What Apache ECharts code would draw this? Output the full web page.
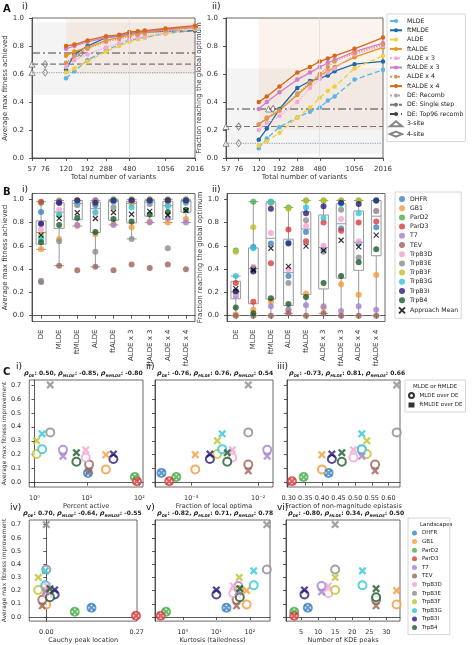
<!DOCTYPE html>
<html><head><meta charset="utf-8">
<script src="https://cdn.jsdelivr.net/npm/echarts@6/dist/echarts.min.js"></script>
<style>html,body{margin:0;padding:0;background:#fff}#c{width:474px;height:645px}</style>
</head><body><div id="c"></div>
<script>
// ---------- DATA ----------
const variantCounts = [120,144,192,288,384,480,576,672,1056,2016];
const xTickLabelsA = [57,76,120,192,288,480,1056,2016];
const methodsA = ['MLDE','ftMLDE','ALDE','ftALDE','ALDE x 3','ftALDE x 3','ALDE x 4','ftALDE x 4'];
const fitnessA = [
 [0.57,0.62,0.70,0.77,0.81,0.84,0.85,0.86,0.89,0.91],
 [0.63,0.74,0.80,0.86,0.87,0.89,0.895,0.90,0.905,0.91],
 [0.61,0.64,0.69,0.76,0.80,0.83,0.85,0.86,0.89,0.92],
 [0.73,0.76,0.79,0.84,0.86,0.88,0.89,0.895,0.915,0.935],
 [0.65,0.70,0.74,0.79,0.82,0.85,0.86,0.87,0.90,0.925],
 [0.78,0.80,0.83,0.86,0.87,0.89,0.895,0.90,0.92,0.935],
 [0.68,0.73,0.78,0.83,0.85,0.87,0.88,0.89,0.91,0.93],
 [0.80,0.81,0.84,0.87,0.88,0.90,0.905,0.91,0.925,0.945]];
const globalA = [
 [0.07,0.14,0.22,0.29,0.33,0.36,0.41,0.44,0.56,0.63],
 [0.13,0.21,0.35,0.50,0.55,0.57,0.59,0.62,0.67,0.69],
 [0.09,0.12,0.18,0.29,0.36,0.43,0.48,0.51,0.64,0.73],
 [0.24,0.28,0.34,0.45,0.53,0.59,0.62,0.65,0.72,0.79],
 [0.20,0.25,0.30,0.40,0.50,0.57,0.61,0.64,0.74,0.80],
 [0.35,0.40,0.47,0.56,0.61,0.65,0.68,0.70,0.76,0.82],
 [0.24,0.29,0.34,0.46,0.54,0.60,0.65,0.69,0.75,0.81],
 [0.40,0.44,0.51,0.61,0.65,0.69,0.71,0.73,0.78,0.86]];
const deNames = ['DE: Recomb','DE: Single step','DE: Top96 recomb'];
const deFitness = [0.61,0.67,0.75];
const deGlobal = [0.105,0.225,0.35];
const siteX3 = [57,57,150];
const siteX4 = [76,76,166];

const landscapes = ['DHFR','GB1','ParD2','ParD3','T7','TEV','TrpB3D','TrpB3E','TrpB3F','TrpB3G','TrpB3I','TrpB4'];
const methodsB = ['DE','MLDE','ftMLDE','ALDE','ftALDE','ALDE x 3','ftALDE x 3','ALDE x 4','ftALDE x 4'];
const fitnessB = [
 [0.89,0.57,0.97,0.98,0.79,0.29,0.74,0.30,0.69,0.66,0.79,0.63],
 [0.97,0.66,0.99,0.98,0.97,0.43,0.91,0.64,0.86,0.87,0.97,0.78],
 [0.99,0.77,0.99,0.99,0.78,0.39,0.96,0.95,0.99,0.97,0.99,0.84],
 [0.95,0.70,0.99,0.99,0.99,0.42,0.88,0.55,0.97,0.89,0.97,0.72],
 [0.99,0.79,1.00,0.99,0.78,0.39,0.98,0.93,0.99,0.98,0.99,0.83],
 [0.97,0.76,1.00,0.99,0.98,0.44,0.96,0.66,0.97,0.93,0.99,0.81],
 [0.99,0.81,1.00,0.99,0.80,0.41,0.97,0.96,0.99,0.98,0.99,0.87],
 [0.98,0.80,1.00,0.99,0.84,0.44,0.95,0.58,0.98,0.94,0.99,0.89],
 [0.99,0.83,1.00,0.99,0.80,0.40,0.98,0.97,0.99,0.98,0.99,0.91]];
const globalB = [
 [0.20,0.01,0.56,0.28,0.17,0.00,0.19,0.21,0.55,0.34,0.21,0.07],
 [0.59,0.05,0.98,0.12,0.40,0.00,0.42,0.41,0.76,0.58,0.38,0.02],
 [0.62,0.12,0.98,0.45,0.08,0.00,0.71,0.97,0.97,0.98,0.92,0.15],
 [0.34,0.05,0.93,0.74,0.05,0.02,0.40,0.28,0.92,0.63,0.62,0.10],
 [0.72,0.19,0.99,0.64,0.09,0.00,0.77,0.82,0.99,0.93,0.88,0.16],
 [0.57,0.07,0.99,0.80,0.08,0.02,0.60,0.55,0.99,0.84,0.94,0.28],
 [0.75,0.27,0.99,0.73,0.04,0.00,0.83,0.91,0.99,0.96,0.97,0.34],
 [0.62,0.18,0.99,0.80,0.08,0.00,0.64,0.50,0.99,0.88,0.96,0.46],
 [0.76,0.35,0.99,0.81,0.05,0.00,0.90,0.90,0.99,0.99,0.99,0.57]];

const mldeImprove = [0.07,0.095,0.04,0.01,0.235,0.13,0.18,0.36,0.205,0.24,0.17,0.15];
const ftmldeImprove = [0.07,0.20,0.04,0.01,0.19,0.085,0.235,0.70,0.30,0.35,0.205,0.215];
const percentActive = [10.5,23,82,90,3.5,11,9.5,2.0,1.1,1.4,32,6.3];
const localOptima = [3.6e-4,1.15e-3,6.0e-4,4.7e-4,1.36e-2,7.1e-3,4.1e-3,7.1e-3,2.45e-3,2.9e-3,1.9e-3,3.45e-3];
const nonMagEpistasis = [0.42,0.40,0.345,0.31,0.52,0.56,0.495,0.625,0.535,0.52,0.43,0.46];
const cauchyPeak = [0.135,0.0,0.085,0.268,-0.002,-0.012,0.003,0.0,-0.024,-0.003,0.025,0.011];
const kurtosis = [20,80,0.5,0.34,45,40,32,320,48,130,10,50];
const kdePeaks = [7,33,3,3,11,27,13,15,15,23,6,27];
const rhoC = [['0.50','-0.85','-0.80'],['-0.76','0.76','0.54'],['-0.73','0.81','0.66'],
              ['0.70','-0.64','-0.55'],['-0.82','0.71','0.78'],['-0.80','0.34','0.50']];
const xNamesC = ['Percent active','Fraction of local optima','Fraction of non-magnitude epistasis',
                 'Cauchy peak location','Kurtosis (tailedness)','Number of KDE peaks'];

// ---------- STYLE ----------
const F = 'DejaVu Sans';
const mColors = ['#5ab4e5','#1b6aa5','#f2cf3a','#e6951f','#f4a6dc','#d47cc9','#d99660','#d9661a'];
const mDash = ['dashed','solid','dashed','solid','dotted','solid','dotted','solid'];
const lColors = ['#3b82c4','#f59a3c','#4cae4c','#d83b3b','#a37fd1','#9c6458','#f2a2d2','#8c8c8c','#bfc02a','#2fc6d6','#2b1b7a','#1c5a2a'];
const deStyles = [{color:'#aaa',type:'dotted'},{color:'#777',type:[6,3]},{color:'#444',type:[8,3,2,3]}];
const XPATH = 'path://M2,0L5,3L8,0L10,2L7,5L10,8L8,10L5,7L2,10L0,8L3,5L0,2Z';
const THINX = 'path://M0,0L10,10M10,0L0,10';
const ln = Math.log;
const axisTxt = {fontFamily:F,fontSize:7,color:'#333'};
const nameTxt = {fontFamily:F,fontSize:7,color:'#333'};
const aline = {show:true,lineStyle:{color:'#333',width:0.8}};
const atick = {show:true,length:3,lineStyle:{color:'#333',width:0.8}};

const grids=[], xAxes=[], yAxes=[], series=[], titles=[], graphics=[];
function addGrid(l,t,w,h){grids.push({left:l,top:t,width:w,height:h,show:true,borderColor:'#444',borderWidth:0.8,backgroundColor:'transparent'});return grids.length-1;}

// ---------- PANEL A ----------
const Agrid = [addGrid(32,18,163,140), addGrid(226,18,157,140)];
[fitnessA, globalA].forEach((vals,p)=>{
  const g = Agrid[p];
  xAxes.push({gridIndex:g,type:'value',min:ln(57),max:ln(2016),axisLine:aline,
    axisTick:{...atick,customValues:xTickLabelsA.map(ln)},
    axisLabel:{...axisTxt,customValues:xTickLabelsA.map(ln),formatter:v=>Math.round(Math.exp(v))},
    splitLine:{show:false},name:'Total number of variants',nameLocation:'middle',nameGap:11,nameTextStyle:nameTxt});
  yAxes.push({gridIndex:g,type:'value',min:0,max:1,interval:0.2,axisLine:aline,axisTick:atick,
    axisLabel:{...axisTxt,formatter:v=>v.toFixed(1)},splitLine:{show:false},
    name:p?'Fraction reaching the global optimum':'Average max fitness achieved',nameLocation:'middle',nameGap:20,nameTextStyle:nameTxt});
  const ai = xAxes.length-1;
  series.push({type:'line',xAxisIndex:ai,yAxisIndex:ai,data:[],silent:true,
    markArea:{silent:true,itemStyle:{color:'rgba(150,150,150,0.10)'},data:[[{coord:[ln(57),p?0.03:0.45]},{coord:[ln(2016),p?0.64:0.97]}]]}});
  series.push({type:'line',xAxisIndex:ai,yAxisIndex:ai,data:[],silent:true,
    markArea:{silent:true,itemStyle:{color:'rgba(230,140,80,0.10)'},data:[[{coord:[ln(120),p?0.2:0.6]},{coord:[ln(2016),1]}]]},
    markLine:{silent:true,symbol:'none',label:{show:false},lineStyle:{color:'#ddd',width:0.8,type:'solid'},data:[{xAxis:ln(480)}]}});
  const de = p?deGlobal:deFitness;
  de.forEach((v,k)=>series.push({name:deNames[k],type:'line',xAxisIndex:ai,yAxisIndex:ai,symbol:'none',
    lineStyle:{...deStyles[k],width:1.2},itemStyle:{color:deStyles[k].color},data:[[ln(57),v],[ln(2016),v]]}));
  methodsA.forEach((m,k)=>series.push({name:m,type:'line',xAxisIndex:ai,yAxisIndex:ai,symbol:'circle',symbolSize:4.5,
    lineStyle:{color:mColors[k],width:1.3,type:mDash[k]},itemStyle:{color:mColors[k]},
    data:vals[k].map((v,i)=>[ln(variantCounts[i]),v])}));
  series.push({name:'3-site',type:'scatter',xAxisIndex:ai,yAxisIndex:ai,symbol:'triangle',symbolSize:6,
    itemStyle:{color:'#fff',borderColor:'#666',borderWidth:0.9},data:de.map((v,k)=>[ln(siteX3[k]),v])});
  series.push({name:'4-site',type:'scatter',xAxisIndex:ai,yAxisIndex:ai,symbol:'diamond',symbolSize:[5,7],
    itemStyle:{color:'#fff',borderColor:'#666',borderWidth:0.9},data:de.map((v,k)=>[ln(siteX4[k]),v])});
});

// ---------- PANEL B ----------
function quant(a,q){const s=[...a].sort((x,y)=>x-y);const pos=(s.length-1)*q;const lo=Math.floor(pos),hi=Math.ceil(pos);return s[lo]+(s[hi]-s[lo])*(pos-lo);}
function boxStats(a){const q1=quant(a,0.25),md=quant(a,0.5),q3=quant(a,0.75),iqr=q3-q1;
  const inr=a.filter(v=>v>=q1-1.5*iqr&&v<=q3+1.5*iqr);return [Math.min(...inr),q1,md,q3,Math.max(...inr)];}
const Bgrid=[addGrid(32,193.5,163,128), addGrid(227,193.5,158,128)];
[fitnessB, globalB].forEach((vals,p)=>{
  const g=Bgrid[p];
  xAxes.push({gridIndex:g,type:'category',data:methodsB,axisLine:aline,axisTick:{...atick,alignWithLabel:true},
    axisLabel:{...axisTxt,rotate:90,interval:0}});
  yAxes.push({gridIndex:g,type:'value',min:-0.05,max:1.05,axisLine:aline,
    axisTick:{...atick,customValues:[0,0.2,0.4,0.6,0.8,1.0]},
    axisLabel:{...axisTxt,customValues:[0,0.2,0.4,0.6,0.8,1.0],formatter:v=>v.toFixed(1)},splitLine:{show:false},
    name:p?'Fraction reaching the global optimum':'Average max fitness achieved',nameLocation:'middle',nameGap:20,nameTextStyle:nameTxt});
  const ai=xAxes.length-1;
  series.push({type:'boxplot',xAxisIndex:ai,yAxisIndex:ai,boxWidth:['55%','55%'],silent:true,
    itemStyle:{color:'rgba(255,255,255,0)',borderColor:'#999',borderWidth:1},data:vals.map(boxStats)});
  landscapes.forEach((l,k)=>series.push({name:l,type:'scatter',xAxisIndex:ai,yAxisIndex:ai,symbolSize:6,
    itemStyle:{color:lColors[k]},data:vals.map((row,i)=>[i,row[k]])}));
  series.push({name:'Approach Mean',type:'scatter',xAxisIndex:ai,yAxisIndex:ai,symbol:THINX,symbolSize:5,
    itemStyle:{color:'rgba(0,0,0,0)',borderColor:'#000',borderWidth:1.2},
    data:vals.map((row,i)=>[i,row.reduce((a,b)=>a+b,0)/row.length])});
});

// ---------- PANEL C ----------
const lg=Math.log10;
const symlog = v=> v>=1 ? 1+lg(v) : v;
const sup = {'-':'⁻','0':'⁰','1':'¹','2':'²','3':'³'};
const pow10 = v=>'10'+String(Math.round(v)).split('').map(c=>sup[c]).join('');
const cfg = [
 {x:percentActive.map(lg),min:-0.1,max:2.07,ticks:[0,1,2],fmt:pow10},
 {x:localOptima.map(lg),min:-3.54,max:-1.78,ticks:[-3,-2],fmt:pow10},
 {x:nonMagEpistasis,min:0.295,max:0.635,ticks:[0.30,0.35,0.40,0.45,0.50,0.55,0.60],fmt:v=>v.toFixed(2)},
 {x:cauchyPeak,min:-0.051,max:0.271,ticks:[-0.04,0.0,0.27],fmt:v=>v.toFixed(2)},
 {x:kurtosis.map(symlog),min:0.17,max:3.6,ticks:[1,2,3],fmt:v=>pow10(v-1)},
 {x:kdePeaks,min:0.6,max:34,ticks:[5,10,15,20,25,30],fmt:v=>String(v)}];
const cPos=[[22,380,121],[155,380,118],[287,380,113],[21,520,116],[155,520,115],[286,520,114]];
const yTicksC=[0,0.1,0.2,0.3,0.4,0.5,0.6,0.7];
cfg.forEach((c,j)=>{
  const [l,t,w]=cPos[j]; const g=addGrid(l,t,w,107);
  xAxes.push({gridIndex:g,type:'value',min:c.min,max:c.max,axisLine:aline,
    axisTick:{...atick,customValues:c.ticks},axisLabel:{...axisTxt,fontSize:6.5,customValues:c.ticks,formatter:c.fmt},
    splitLine:{show:false},name:xNamesC[j],nameLocation:'middle',nameGap:12,nameTextStyle:{...nameTxt,fontSize:6.5}});
  yAxes.push({gridIndex:g,type:'value',min:-0.031,max:0.735,axisLine:aline,
    axisTick:{...atick,customValues:yTicksC},
    axisLabel:{...axisTxt,fontSize:6.5,show:j%3===0,customValues:yTicksC,formatter:v=>v.toFixed(1)},splitLine:{show:false},
    name:j%3===0?'Average max fitness improvement':'',nameLocation:'middle',nameGap:15,nameTextStyle:{...nameTxt,fontSize:6}});
  const ai=xAxes.length-1;
  series.push({name:'MLDE over DE',type:'scatter',xAxisIndex:ai,yAxisIndex:ai,symbol:'emptyCircle',symbolSize:8,
    itemStyle:{color:'#000',borderWidth:0.9},
    data:landscapes.map((_,k)=>({value:[c.x[k],mldeImprove[k]],itemStyle:{color:lColors[k],borderColor:lColors[k]}}))});
  series.push({name:'ftMLDE over DE',type:'scatter',xAxisIndex:ai,yAxisIndex:ai,symbol:XPATH,symbolSize:8,
    itemStyle:{color:'#000'},
    data:landscapes.map((_,k)=>({value:[c.x[k],ftmldeImprove[k]],itemStyle:{color:lColors[k]}}))});
  const r=rhoC[j];
  titles.push({left:l+2,top:t-12,padding:0,text:`{i|ρ}{s|DE}{n|: ${r[0]}, }{i|ρ}{s|MLDE}{n|: ${r[1]}, }{i|ρ}{s|ftMLDE}{n|: ${r[2]}}`,
    textStyle:{rich:{i:{fontFamily:F,fontSize:6.5,fontStyle:'italic',color:'#222'},
      s:{fontFamily:F,fontSize:3.8,fontStyle:'italic',color:'#222',verticalAlign:'bottom',lineHeight:10},
      n:{fontFamily:F,fontSize:6,color:'#222'}}}});
});

// ---------- LABELS ----------
const lab=(x,y,t,b)=>graphics.push({type:'text',left:x,top:y,style:{text:t,font:(b?'bold 10px ':'9px ')+F,fill:'#111'}});
lab(3,4,'A',1); lab(22,2,'i)'); lab(212,2,'ii)');
lab(3,187,'B',1); lab(22,185,'i)'); lab(212,185,'ii)');
lab(3,367,'C',1); lab(16,362,'i)'); lab(146,362,'ii)'); lab(277,362,'iii)');
lab(10,503,'iv)'); lab(146,503,'v)'); lab(277,503,'vi)');
graphics.push({type:'text',left:413,top:384,style:{text:'MLDE or ftMLDE',font:'5.5px '+F,fill:'#222'}});
graphics.push({type:'text',left:420,top:522,style:{text:'Landscapes',font:'5.5px '+F,fill:'#222'}});

const legTxt={fontFamily:F,fontSize:6.2,color:'#222'};
const legends=[
 {left:387,top:14,orient:'vertical',itemGap:3.3,itemWidth:12,itemHeight:5,itemSymbolKeepAspect:true,textStyle:legTxt,
  data:[...methodsA,...deNames,{name:'3-site',icon:'triangle'},{name:'4-site',icon:'diamond'}],borderColor:'#ccc',borderWidth:0.8,padding:[4,2,4,2],selectedMode:false},
 {left:395,top:192,orient:'vertical',itemGap:3.2,itemWidth:6,itemHeight:6,textStyle:legTxt,
  data:[...landscapes.map(n=>({name:n,icon:'circle'})),{name:'Approach Mean',icon:THINX}],borderColor:'#ccc',borderWidth:0.8,padding:[4,3,4,3],selectedMode:false},
 {left:405,top:380,orient:'vertical',itemGap:3,itemWidth:6,itemHeight:5,textStyle:{...legTxt,fontSize:5.5},
  data:[{name:'MLDE over DE',icon:'emptyCircle',itemStyle:{color:'#000'}},{name:'ftMLDE over DE',icon:'rect',itemStyle:{color:'#000'}}],
  borderColor:'#ccc',borderWidth:0.8,padding:[12,3,4,3],selectedMode:false},
 {left:408,top:518,orient:'vertical',itemGap:2.6,itemWidth:5,itemHeight:5,textStyle:{...legTxt,fontSize:5.5},
  data:landscapes.map(n=>({name:n,icon:'circle'})),borderColor:'#ccc',borderWidth:0.8,padding:[12,8,4,4],selectedMode:false}];

const chart=echarts.init(document.getElementById('c'),null,{renderer:'canvas'});
chart.setOption({animation:false,backgroundColor:'#fff',grid:grids,xAxis:xAxes,yAxis:yAxes,series,title:titles,graphic:graphics,legend:legends});
</script></body></html>
